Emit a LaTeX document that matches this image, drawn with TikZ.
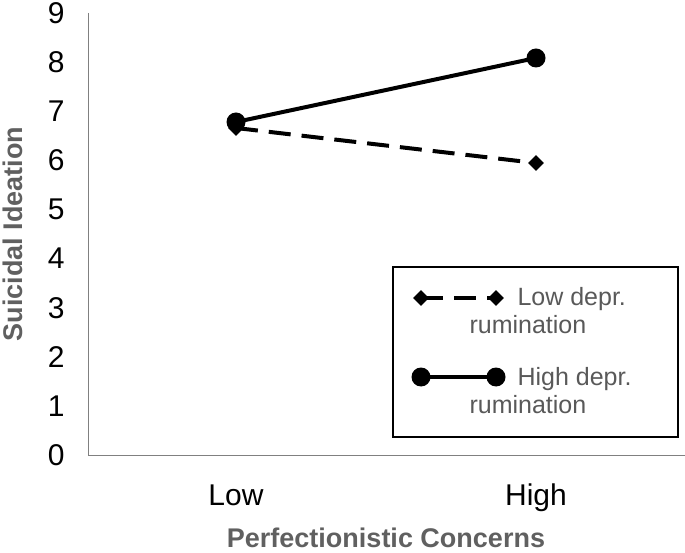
\documentclass[tikz,border=0pt]{standalone}
\usepackage{fontspec}
\setmainfont{Liberation Sans}
\usetikzlibrary{shapes.geometric}
\begin{document}
\begin{tikzpicture}[x=1pt,y=1pt,
  tick/.style={font=\fontsize{30}{30}\selectfont,anchor=east},
  cat/.style={font=\fontsize{30}{30}\selectfont,anchor=base},
  ttl/.style={font=\bfseries\fontsize{27}{27}\selectfont,text=gray!75!black},
  leg/.style={font=\fontsize{25}{28}\selectfont,text=gray!70!black,align=left,anchor=west},
  dia/.style={diamond,fill=black,inner sep=0pt,minimum size=16pt},
  dot/.style={circle,fill=black,inner sep=0pt,minimum size=19pt},
  ln/.style={line width=4pt},
  dsh/.style={line width=4pt,dash pattern=on 22pt off 11pt}]
\useasboundingbox (0,0) rectangle (685,552);
\draw[gray,line width=1pt] (88,539) -- (88,97) -- (685,97);
\foreach \v in {0,...,9} \node[tick] at (68,{97+\v*49.1}) {\v};
\node[cat] (lo) at (236,47) {Low};
\node[cat] (hi) at (536,47) {High};
\node[ttl] (xt) at (386,14) {Perfectionistic Concerns};
\node[ttl,rotate=90] (yt) at (13,318) {Suicidal Ideation};
\node[dia] (a1) at (236,424) {};
\node[dia] (a2) at (536,389) {};
\node[dot] (b1) at (236,430) {};
\node[dot] (b2) at (536,494) {};
\draw[dsh] (a1.center) -- (a2.center);
\draw[ln] (b1.center) -- (b2.center);
\node[draw,line width=1.2pt,minimum width=285pt,minimum height=170pt] (lb) at (535.5,200) {};
\node[dia] (l1) at (421,254) {};
\node[dia] (l2) at (496,254) {};
\draw[dsh] (l1.center) -- (l2.center);
\node[leg] (t1) at (466,241) {\hspace*{48pt}Low depr.\\rumination};
\node[dot] (m1) at (421,175) {};
\node[dot] (m2) at (496,175) {};
\draw[ln] (m1.center) -- (m2.center);
\node[leg] (t2) at (466,161) {\hspace*{48pt}High depr.\\rumination};
\end{tikzpicture}
\end{document}
